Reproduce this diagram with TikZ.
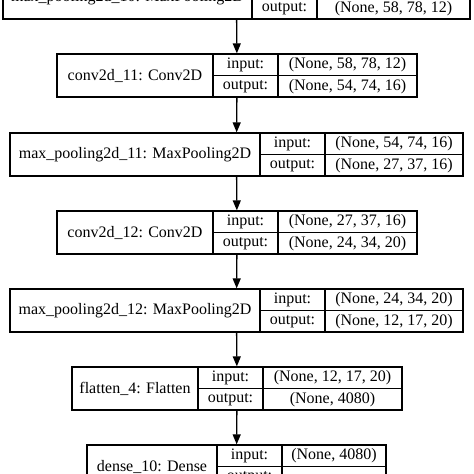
\documentclass[tikz,border=0pt]{standalone}
\usepackage{fontspec}
\setmainfont{Liberation Serif}
\usetikzlibrary{arrows.meta}

\tikzset{
  layerbox/.style={draw, line width=0.8pt, minimum height=25.8pt, inner sep=0pt},
  cellbox/.style={draw, line width=0.8pt, inner sep=0pt, font=\fontsize{9.6}{11}\selectfont},
}
% #1 id, #2 top, #3 left, #4 first divider, #5 second divider, #6 right, #7 name, #8 input, #9 output
\newcommand{\kerasLayer}[9]{%
  \node[layerbox, minimum width={(#6-#3)*0.6pt}] (#1) at ({(#3+#6)/2},{#2+21.5}) {};
  \node[cellbox, minimum width={(#4-#3)*0.6pt}, minimum height=25.8pt] (#1-name) at ({(#3+#4)/2},{#2+21.5}) {#7};
  \node[cellbox, minimum width={(#5-#4)*0.6pt}, minimum height=12.9pt] (#1-inlab) at ({(#4+#5)/2},{#2+10.75}) {input:};
  \node[cellbox, minimum width={(#5-#4)*0.6pt}, minimum height=12.9pt] (#1-outlab) at ({(#4+#5)/2},{#2+32.25}) {output:};
  \node[cellbox, minimum width={(#6-#5)*0.6pt}, minimum height=12.9pt] (#1-in) at ({(#5+#6)/2},{#2+10.75}) {#8};
  \node[cellbox, minimum width={(#6-#5)*0.6pt}, minimum height=12.9pt] (#1-out) at ({(#5+#6)/2},{#2+32.25}) {#9};
}

\begin{document}
\begin{tikzpicture}[x=0.6pt, y=-0.6pt, >={Triangle[length=6pt, width=4.8pt]}]
  \useasboundingbox (0,0) rectangle (474,474);
  \begin{scope}
    \clip (0,0) rectangle (474,474);
    \kerasLayer{pool10}{-24}{3}{252}{317}{470}{max\_pooling2d\_10: MaxPooling2D}{}{(None, 58, 78, 12)}
    \kerasLayer{conv11}{54}{57}{213}{278}{417}{conv2d\_11: Conv2D}{(None, 58, 78, 12)}{(None, 54, 74, 16)}
    \kerasLayer{pool11}{133}{10}{260}{325}{463}{max\_pooling2d\_11: MaxPooling2D}{(None, 54, 74, 16)}{(None, 27, 37, 16)}
    \kerasLayer{conv12}{211}{57}{213}{278}{417}{conv2d\_12: Conv2D}{(None, 27, 37, 16)}{(None, 24, 34, 20)}
    \kerasLayer{pool12}{289}{10}{260}{325}{463}{max\_pooling2d\_12: MaxPooling2D}{(None, 24, 34, 20)}{(None, 12, 17, 20)}
    \kerasLayer{flat4}{367}{72}{198}{263}{402}{flatten\_4: Flatten}{(None, 12, 17, 20)}{(None, 4080)}
    \kerasLayer{dense10}{445}{87}{217}{282}{386}{dense\_10: Dense}{(None, 4080)}{}
    % connectors
    \draw[->, line width=0.8pt] (pool10) -- (conv11);
    \draw[->, line width=0.8pt] (conv11) -- (pool11);
    \draw[->, line width=0.8pt] (pool11) -- (conv12);
    \draw[->, line width=0.8pt] (conv12) -- (pool12);
    \draw[->, line width=0.8pt] (pool12) -- (flat4);
    \draw[->, line width=0.8pt] (flat4) -- (dense10);
  \end{scope}
\end{tikzpicture}
\end{document}
